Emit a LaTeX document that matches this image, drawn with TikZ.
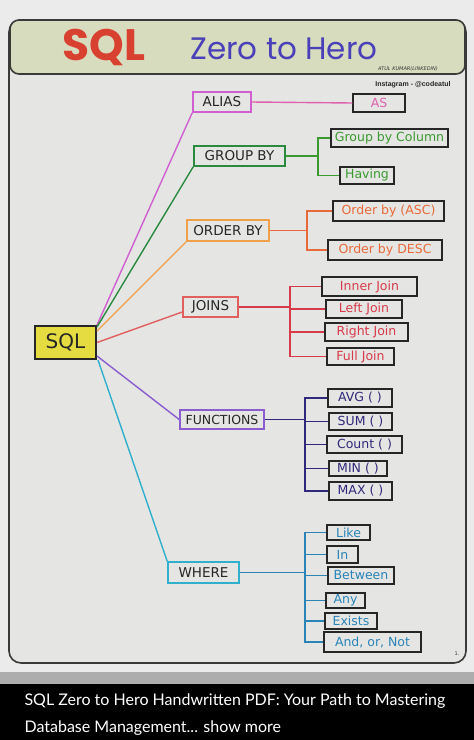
\documentclass[tikz,border=0pt]{standalone}
\usepackage{fontspec}
\setmainfont{DejaVu Sans}
\newfontfamily\titlefont{Poppins}
\newfontfamily\capfont{Lato}
\newfontfamily\instafont{Liberation Sans}
\definecolor{paper}{HTML}{E5E5E3}
\definecolor{titlefill}{HTML}{D8DCBE}
\definecolor{frameC}{HTML}{3A3A38}
\definecolor{magC}{HTML}{D060D0}
\definecolor{pinkT}{HTML}{E060B0}
\definecolor{grnC}{HTML}{2A8A40}
\definecolor{grnT}{HTML}{3A9A30}
\definecolor{orgC}{HTML}{F0A048}
\definecolor{orgT}{HTML}{E86A3A}
\definecolor{redC}{HTML}{E06060}
\definecolor{redT}{HTML}{D83A4A}
\definecolor{purC}{HTML}{8A5CD0}
\definecolor{navyT}{HTML}{30287A}
\definecolor{cyanC}{HTML}{30B0CC}
\definecolor{blueT}{HTML}{2A84B8}
\definecolor{sqlY}{HTML}{E4DC40}
\definecolor{sqlR}{HTML}{D84030}
\definecolor{heroB}{HTML}{4A40B8}
\begin{document}
\begin{tikzpicture}[x=1pt,y=-1pt,
  sz/.style 2 args={minimum width=#1pt, minimum height=#2pt},
  cat/.style={draw=#1, line width=1.6pt, inner sep=0pt, text=black!85,
    font=\fontsize{13.5}{13.5}\selectfont},
  leaf/.style={draw=black!85, line width=1.2pt, inner sep=0pt, text=#1,
    font=\fontsize{12.5}{12.5}\selectfont},
  conn/.style={line width=1.4pt, draw=#1},
]
\useasboundingbox (0,0) rectangle (474,740);
% backgrounds
\fill[black!8] (0,0) rectangle (474,672);
\fill[black!32] (0,672) rectangle (474,684);
\fill[black] (0,684) rectangle (474,740);
\draw[frameC, line width=1.6pt, rounded corners=12pt, fill=paper] (9,20) rectangle (466,663);
\draw[frameC, line width=1.6pt, rounded corners=9pt, fill=titlefill] (10,20) rectangle (465,74);
% title
\node[font=\titlefont\bfseries\fontsize{44}{44}\selectfont, text=sqlR] (tsql) at (104,47) {SQL};
\node[font=\titlefont\fontsize{31}{31}\selectfont, text=heroB] (thero) at (284,49) {Zero to Hero};
\node[font=\itshape\fontsize{5}{5}\selectfont, text=black!80] (atul) at (408,69) {ATUL KUMAR(LINKEDIN)};
\node[font=\instafont\bfseries\fontsize{7}{7}\selectfont, text=black!85] (insta) at (413,85) {Instagram - @codeatul};
\node[font=\fontsize{5}{5}\selectfont, text=black!80] (pg) at (457,654) {1.};
% root
\node[draw=black!85, line width=2pt, fill=sqlY, sz={61}{33}, inner sep=0pt,
  font=\fontsize{20}{20}\selectfont, text=black!85] (sql) at (65.5,342.5) {SQL};
% categories
\node[cat=magC, sz={58}{20}] (alias) at (222,102) {ALIAS};
\node[cat=grnC, sz={91}{20}] (groupby) at (239.5,156) {GROUP BY};
\node[cat=orgC, sz={82}{21}] (orderby) at (228,230.5) {ORDER BY};
\node[cat=redC, sz={55}{20}] (joins) at (210.5,307) {JOINS};
\node[cat=purC, sz={84}{19}, font=\fontsize{12.5}{12.5}\selectfont] (functions) at (222,419.5) {FUNCTIONS};
\node[cat=cyanC, sz={71}{21}] (where) at (203.5,572.5) {WHERE};
% leaves
\node[leaf=pinkT, sz={52}{18}] (as) at (379,103) {AS};
\node[leaf=grnT, sz={117}{18}] (gbc) at (389.5,138) {Group by Column};
\node[leaf=grnT, sz={54}{17}] (having) at (367,175.5) {Having};
\node[leaf=orgT, sz={111}{20}] (asc) at (388.5,211) {Order by (ASC)};
\node[leaf=orgT, sz={114}{20}] (desc) at (385,250) {Order by DESC};
\node[leaf=redT, sz={95}{19}] (inner) at (369.5,286.5) {Inner Join};
\node[leaf=redT, sz={76}{18}] (left) at (364,309) {Left Join};
\node[leaf=redT, sz={83}{18}] (right) at (366.5,332) {Right Join};
\node[leaf=redT, sz={67}{17}] (full) at (360.5,356.5) {Full Join};
\node[leaf=navyT, sz={64}{18}] (avg) at (360,398) {AVG ( )};
\node[leaf=navyT, sz={63}{17}] (sum) at (360.5,421.5) {SUM ( )};
\node[leaf=navyT, sz={75}{17}] (count) at (364.5,444.5) {Count ( )};
\node[leaf=navyT, sz={58}{15}] (min) at (358,468.5) {MIN ( )};
\node[leaf=navyT, sz={63}{18}] (max) at (360.5,491) {MAX ( )};
\node[leaf=blueT, sz={43}{15}] (like) at (348.5,532.5) {Like};
\node[leaf=blueT, sz={31}{17}] (in) at (342.5,554.5) {In};
\node[leaf=blueT, sz={66}{17}] (between) at (361,575.5) {Between};
\node[leaf=blueT, sz={39}{15}] (any) at (345.5,600.5) {Any};
\node[leaf=blueT, sz={52}{16}] (exists) at (351,621) {Exists};
\node[leaf=blueT, sz={97}{20}] (andor) at (372.5,642) {And, or, Not};
% root connectors
\draw[conn=magC] (sql.north east) -- (alias.south west);
\draw[conn=grnC] ([yshift=-2pt]sql.north east) -- (groupby.south west);
\draw[conn=orgC] ([yshift=-6pt]sql.north east) -- (orderby.south west);
\draw[conn=redC] (sql.east) -- ([yshift=-5pt]joins.west);
\draw[conn=purC] ([yshift=4pt]sql.south east) -- (functions.west);
\draw[conn=cyanC] ([xshift=1pt]sql.south east) -- (where.north west);
% buses
\coordinate (gbus) at (318,156);
\coordinate (obus) at (307,230.5);
\coordinate (jbus) at (290,307);
\coordinate (fbus) at (305,419.5);
\coordinate (wbus) at (305,572.5);
\draw[conn=pinkT] (alias.east) -- (as.west);
\draw[conn=grnT] (groupby.east) -- (gbus);
\draw[conn=grnT] (gbc.west) -| (gbus) |- (having.west);
\draw[conn=orgT] (orderby.east) -- (obus);
\draw[conn=orgT] (asc.west) -| (obus) |- (desc.west);
\draw[conn=redT] (joins.east) -- (jbus);
\draw[conn=redT] (inner.west) -| (jbus) |- (full.west);
\draw[conn=redT] (jbus |- left.west) -- (left.west);
\draw[conn=redT] (jbus |- right.west) -- (right.west);
\draw[conn=navyT] (functions.east) -- (fbus);
\draw[conn=navyT] (avg.west) -| (fbus) |- (max.west);
\draw[conn=navyT] (fbus |- sum.west) -- (sum.west);
\draw[conn=navyT] (fbus |- count.west) -- (count.west);
\draw[conn=navyT] (fbus |- min.west) -- (min.west);
\draw[conn=blueT] (where.east) -- (wbus);
\draw[conn=blueT] (like.west) -| (wbus) |- (andor.west);
\draw[conn=blueT] (wbus |- in.west) -- (in.west);
\draw[conn=blueT] (wbus |- between.west) -- (between.west);
\draw[conn=blueT] (wbus |- any.west) -- (any.west);
\draw[conn=blueT] (wbus |- exists.west) -- (exists.west);
% caption
\node[anchor=west, font=\capfont\fontsize{16}{16}\selectfont, text=white] (cap1) at (21,701) {SQL Zero to Hero Handwritten PDF: Your Path to Mastering};
\node[anchor=west, font=\capfont\fontsize{16}{16}\selectfont, text=white] (cap2) at (21,728) {Database Management... show more};
\end{tikzpicture}
\end{document}
